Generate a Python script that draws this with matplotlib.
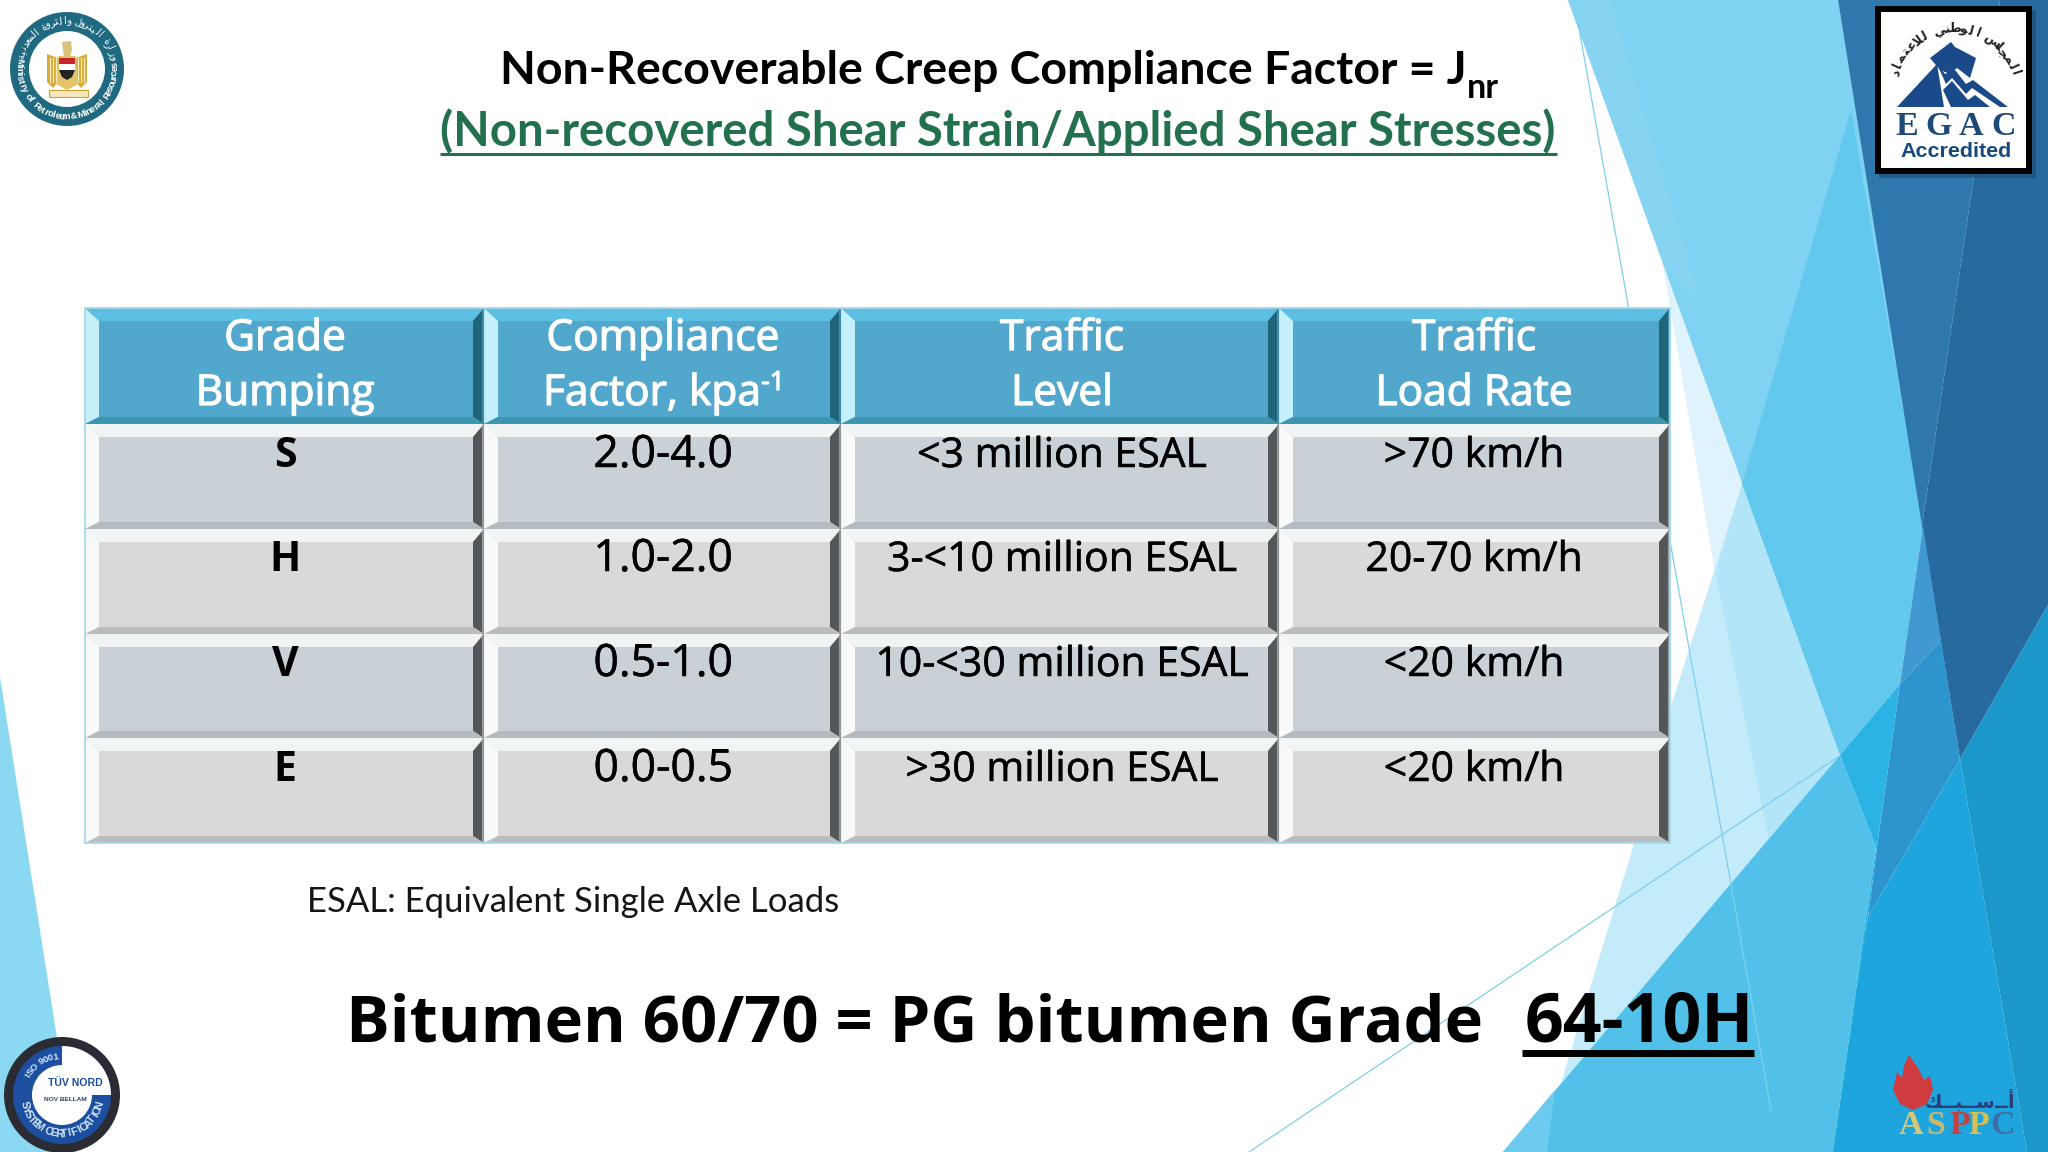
import matplotlib
matplotlib.use("Agg")
import matplotlib.pyplot as plt
from matplotlib.patches import Polygon, Circle, Rectangle, Wedge
import matplotlib.patheffects as pe
import numpy as np

# ---------- content ----------
headers_line1 = ["Grade", "Compliance", "Traffic", "Traffic"]
headers_line2 = ["Bumping", "Factor, kpa", "Level", "Load Rate"]
header_sup = ["", "-1", "", ""]
grades = ["S", "H", "V", "E"]
compliance = ["2.0-4.0", "1.0-2.0", "0.5-1.0", "0.0-0.5"]
traffic_level = ["<3 million ESAL", "3-<10 million ESAL", "10-<30 million ESAL", ">30 million ESAL"]
load_rate = [">70 km/h", "20-70 km/h", "<20 km/h", "<20 km/h"]
title_main = "Non-Recoverable Creep Compliance Factor = J"
title_sub = "nr"
title_line2 = "(Non-recovered Shear Strain/Applied Shear Stresses)"
note = "ESAL: Equivalent Single Axle Loads"
bottom_left = "Bitumen 60/70 = PG bitumen Grade"
bottom_right = "64-10H"

W, H = 2048, 1152
fig = plt.figure(figsize=(W / 100, H / 100), dpi=100, facecolor="white")
ax = fig.add_axes([0, 0, 1, 1])
ax.set_xlim(0, W)
ax.set_ylim(H, 0)
ax.axis("off")
PT = 0.72  # px -> pt at dpi 100
BODY = "Open Sans"
TITLE = "Lato"


def poly(pts, color, z=1, **kw):
    ax.add_patch(Polygon(pts, closed=True, facecolor=color, edgecolor="none", zorder=z, **kw))


def txt(x, y, s, px, color="black", family=BODY, weight="normal", ha="center", va="baseline", z=10, stroke=0, **kw):
    fam = [family, "DejaVu Sans"]
    t = ax.text(x, y, s, fontsize=px * PT, color=color, family=fam, weight=weight,
                ha=ha, va=va, zorder=z, **kw)
    if stroke:
        t.set_path_effects([pe.withStroke(linewidth=stroke, foreground=color)])
    return t


def arc_text(cx, cy, r, s, a0, a1, px, color, family="DejaVu Sans", weight="normal", bottom=True, z=12):
    angles = np.linspace(a0, a1, len(s))
    for ch, a in zip(s, angles):
        if ch == " ":
            continue
        t = np.deg2rad(a)
        rot = a + 90 if bottom else a - 90
        ax.text(cx + r * np.cos(t), cy - r * np.sin(t), ch, fontsize=px * PT, color=color,
                family=[family, "DejaVu Sans"], weight=weight, rotation=rot, rotation_mode="anchor",
                ha="center", va="center", zorder=z)


# ---------- background shapes ----------
poly([(0, 677), (75, 1152), (0, 1152)], "#8bd8f3")
poly([(1662, 260), (1742, 484), (1715, 573)], "#dff3fc")
poly([(1715, 573), (1742, 484), (1840, 755), (1768, 840)], "#b2e5f8")
poly([(1742, 484), (1715, 573), (1768, 840), (1503, 1152), (1540, 1152), (1633, 847), (1670, 709)], "#c3ebfa")
poly([(1568, 0), (1838, 0), (1923, 526), (1840, 755)], "#80d2f2")
poly([(1568, 0), (1610, 0), (1700, 300), (1665, 266)], "#86d4f2")
poly([(1851, 110), (1742, 484), (1840, 755), (1900, 684), (1923, 526)], "#62c8ed")
poly([(1838, 0), (2000, 0), (1922, 526)], "#2e78ad")
poly([(2000, 0), (2048, 0), (2048, 605), (1960, 759), (1922, 526)], "#266a9f")
poly([(1923, 526), (1941, 641), (1900, 684)], "#4099d0")
poly([(1900, 684), (1941, 641), (1960, 759), (1868, 917), (1878, 840)], "#2e94ce")
poly([(1840, 755), (1876, 847), (1833, 1152), (1503, 1152)], "#52c1ea")
poly([(1503, 1152), (1555, 1090), (1547, 1152)], "#6dcbf0")
poly([(1840, 755), (1900, 684), (1878, 840), (1868, 917), (1838, 1152), (1833, 1152), (1876, 847)], "#2bb3e5")
poly([(1960, 759), (2027, 1152), (1833, 1152), (1868, 917)], "#1fa5dd")
poly([(2048, 605), (2048, 1152), (2027, 1152), (1960, 759)], "#1a98cb")
ax.plot([1574, 1771], [0, 1110], color="#7dd0ee", lw=0.9, zorder=2)
ax.plot([1249, 1838], [1152, 757], color="#7dd0ee", lw=0.9, zorder=2)

# ---------- table ----------
col_edges = [85, 484, 841, 1279, 1670]
row_edges = [308, 424, 529, 634, 738, 843]
col_centers = [285, 663, 1062, 1474]
header_baselines = [350, 405]
row_baselines = [467, 571, 676, 781]
row_fill = ["#c9d1d6", "#d9d9d9", "#c9d1d6", "#d9d9d9"]
row_bottom = ["#b4bbc0", "#bcbcbc", "#b4bbc0", "#bcbcbc"]


def cell(x0, x1, y0, y1, fill, top, left, right, bottom, right_outer):
    bl, br, bt, bb = 14, 11, 13, 7
    ax.add_patch(Rectangle((x0, y0), x1 - x0, y1 - y0, facecolor=fill, edgecolor="none", zorder=3))
    poly([(x0, y0), (x1, y0), (x1 - br, y0 + bt), (x0 + bl, y0 + bt)], top, z=4)
    poly([(x0, y0), (x0 + bl, y0 + bt), (x0 + bl, y1 - bb), (x0, y1)], left, z=4)
    poly([(x1, y0), (x1, y1), (x1 - br, y1 - bb), (x1 - br, y0 + bt)], right, z=4)
    poly([(x0, y1), (x0 + bl, y1 - bb), (x1 - br, y1 - bb), (x1, y1)], bottom, z=4)
    ax.plot([x1 - 1.2, x1 - 1.2], [y0 + 2, y1 - 1], color=right_outer, lw=1.6, zorder=5)


for c in range(4):
    cell(col_edges[c], col_edges[c + 1], row_edges[0], row_edges[1],
         "#52a7cd", "#5dbfe2", "#c4f0fb", "#1f6479", "#3c96b1", "#3f8ea8")
    for r in range(4):
        cell(col_edges[c], col_edges[c + 1], row_edges[r + 1], row_edges[r + 2],
             row_fill[r], "#f1f4f5", "#f8fafa", "#54575a", row_bottom[r], "#93989b")
ax.add_patch(Rectangle((col_edges[0], row_edges[0]), col_edges[-1] - col_edges[0], row_edges[-1] - row_edges[0],
                       facecolor="none", edgecolor="#a5d9ee", lw=1.3, zorder=6))

TABLE_PX = 41
HEAD_PX = 42.5
DIGIT_PX = 44.5
HEAD_STROKE = 0.9
BODY_STROKE = 0.35
for c in range(4):
    txt(col_centers[c], header_baselines[0], headers_line1[c], HEAD_PX, color="white", stroke=HEAD_STROKE)
    if header_sup[c]:
        txt(col_centers[c] - 11, header_baselines[1], headers_line2[c], HEAD_PX, color="white", stroke=HEAD_STROKE)
        txt(col_centers[c] + 110, header_baselines[1] - 15, header_sup[c], HEAD_PX * 0.62, color="white", stroke=HEAD_STROKE)
    else:
        txt(col_centers[c], header_baselines[1], headers_line2[c], HEAD_PX, color="white", stroke=HEAD_STROKE)
for r in range(4):
    txt(col_centers[0], row_baselines[r], grades[r], TABLE_PX, weight="bold")
    txt(col_centers[1], row_baselines[r], compliance[r], DIGIT_PX, stroke=BODY_STROKE)
    txt(col_centers[2], row_baselines[r], traffic_level[r], TABLE_PX, stroke=BODY_STROKE)
    txt(col_centers[3], row_baselines[r], load_rate[r], TABLE_PX, stroke=BODY_STROKE)

# ---------- titles ----------
txt(500, 84, title_main, 46.5, family=TITLE, weight="bold", ha="left", z=8)
txt(1467, 98, title_sub, 34, family=TITLE, weight="bold", ha="left", z=8)
txt(998, 146, title_line2, 47.4, color="#23704f", family=TITLE, weight="bold", z=8)
ax.plot([440, 1557], [153.5, 153.5], color="#23704f", lw=2.2, solid_capstyle="butt", zorder=8)
txt(307, 912, note, 34.6, color="#151515", family=TITLE, ha="left", z=8)
txt(346, 1041, bottom_left, 65.1, weight="bold", ha="left", z=8)
txt(1525, 1041, bottom_right, 68, weight="bold", ha="left", z=8)
ax.plot([1522, 1754], [1053, 1053], color="black", lw=5, solid_capstyle="butt", zorder=8)

# ---------- ministry badge ----------
cx, cy = 67, 69
ax.add_patch(Circle((cx, cy), 57, facecolor="#1f6a80", edgecolor="none", zorder=7))
ax.add_patch(Circle((cx, cy), 38, facecolor="white", edgecolor="none", zorder=8))
arc_text(cx, cy, 48, "Ministry of Petroleum & Mineral Resources", 172, 365, 9.5, "white", family="Liberation Sans", weight="bold")
ar_min = "\uFEED\uFEAF\uFE8D\uFEAD\uFE93 \uFE8D\uFEDF\uFE92\uFE98\uFEAE\uFEED\uFEDD \uFEED\uFE8D\uFEDF\uFE9C\uFEAE\uFEED\uFE93 \uFE8D\uFEDF\uFEE4\uFECC\uFEAA\uFEE7\uFEF4\uFE94"
arc_text(cx, cy, 48, ar_min, 15, 165, 10, "white", bottom=False)
GOLD = "#d8ad33"
poly([(47, 54), (58, 58), (60, 80), (53, 88), (47, 82)], GOLD, z=9)
poly([(87, 54), (76, 58), (74, 80), (81, 88), (87, 82)], GOLD, z=9)
poly([(58, 56), (76, 56), (78, 84), (67, 90), (56, 84)], "#e3c468", z=9)
poly([(62, 42), (71, 41), (72, 50), (70, 57), (64, 57)], "#d9c27a", z=9)
for xs in [50, 53, 56, 78, 81, 84]:
    ax.plot([xs, xs], [58, 82], color="#f6ecc6", lw=0.8, zorder=10)
poly([(59, 58), (75, 58), (75, 64), (59, 64)], "#c8262c", z=10)
poly([(59, 64), (75, 64), (75, 70), (59, 70)], "white", z=10)
poly([(59, 70), (75, 70), (72, 77), (67, 80), (62, 77)], "#222222", z=10)
ax.add_patch(Rectangle((49, 90), 39, 7, facecolor="#f4e7bd", edgecolor="#c9a235", lw=0.8, zorder=10))

# ---------- TUV badge ----------
cx, cy = 62, 1095
ax.add_patch(Circle((cx, cy), 58, facecolor="#2b2b33", edgecolor="none", zorder=7))
ax.add_patch(Circle((cx, cy), 49, facecolor="#1d4fa0", edgecolor="none", zorder=8))
ax.add_patch(Wedge((cx, cy), 49, 270, 360, facecolor="white", edgecolor="none", zorder=9))
ax.add_patch(Circle((cx, cy), 30, facecolor="white", edgecolor="none", zorder=9))
txt(75, 1086, "TÜV NORD", 10.5, color="#1d4fa0", family="Liberation Sans", weight="bold", z=11)
txt(65, 1101, "NOV BELLAM", 6.5, color="#33415f", family="Liberation Sans", weight="bold", z=11)
arc_text(cx, cy, 39, "SYSTEM CERTIFICATION", 195, 344, 11, "#cfe3f7", family="Liberation Sans", weight="bold")
arc_text(cx, cy, 39, "ISO 9001", 150, 100, 9.5, "#cfe3f7", family="Liberation Sans", weight="bold", bottom=False)

# ---------- EGAC logo ----------
ax.add_patch(Rectangle((1879, 10), 157, 168, facecolor="#1c4a6c", edgecolor="none", zorder=7, alpha=0.6))
ax.add_patch(Rectangle((1875, 6), 157, 168, facecolor="black", edgecolor="none", zorder=8))
ax.add_patch(Rectangle((1881, 12), 145, 156, facecolor="white", edgecolor="none", zorder=9))
NAVY = "#1b4a8a"
poly([(1897, 107), (1937, 64), (1944, 107)], NAVY, z=10)
poly([(1937, 64), (1945, 74), (1955, 70), (1966, 84), (1973, 80), (2008, 107), (2000, 107), (1972, 88), (1966, 94),
      (1952, 78), (1946, 84)], NAVY, z=10)
poly([(1943, 90), (1952, 81), (1968, 100), (1975, 95), (1990, 107), (1951, 107)], NAVY, z=10)
poly([(1930, 58), (1951, 42), (1955, 47), (1976, 58), (1970, 78), (1957, 68), (1950, 74), (1940, 70)], NAVY, z=10)
ar_egac = "\uFE8D\uFEDF\uFEE4\uFEA0\uFEE0\uFEB2 \uFE8D\uFEDF\uFEEE\uFEC3\uFEE8\uFEF2 \uFEDF\uFEFC\uFECB\uFE98\uFEE4\uFE8E\uFEA9"
arc_text(1955, 92, 63, ar_egac, 18, 162, 12.5, "#222222", weight="bold", bottom=False)
for ch, xc in zip("EGAC", [1907, 1939, 1971, 2004]):
    txt(xc, 135, ch, 34, color="#1e4a78", family="Liberation Serif", weight="bold", z=11)
txt(1956, 157, "Accredited", 21.5, color="#174a7c", family="Liberation Sans", weight="bold", z=11)

# ---------- ASPPC logo ----------
poly([(1909, 1055), (1918, 1068), (1924, 1080), (1930, 1076), (1933, 1090), (1927, 1104), (1913, 1110),
      (1900, 1104), (1893, 1090), (1897, 1072), (1902, 1078), (1904, 1066)], "#cf3b3f", z=8)
for ch, xc, col in zip("ASPPC", [1911, 1936, 1960, 1979, 2003],
                       ["#d8c878", "#c9b870", "#c7403f", "#d8bf50", "#3b6ea5"]):
    txt(xc, 1134, ch, 34, color=col, family="Liberation Serif", weight="bold", z=11)
txt(1970, 1108, "\uFEDA\u0640\u0640\uFE92\u0640\u0640\uFEB3\u0640\u0640\uFE83", 19, color="#2a3f7a", weight="bold", z=11)

fig.savefig("out.png", dpi=100, facecolor="white")
